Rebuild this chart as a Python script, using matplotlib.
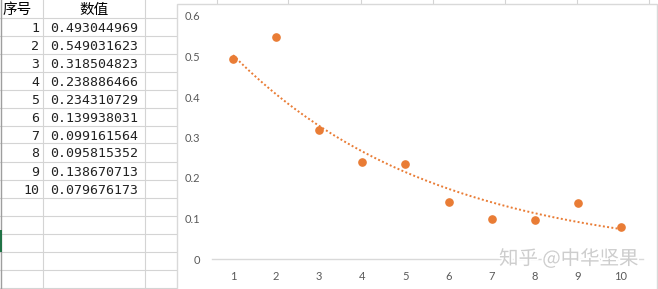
import numpy as np
import matplotlib
matplotlib.use("Agg")
import matplotlib.pyplot as plt
from matplotlib.patches import Rectangle
from matplotlib.lines import Line2D
import matplotlib.patheffects as pe

# ---- data ----
idx = [1, 2, 3, 4, 5, 6, 7, 8, 9, 10]
values = [0.493044969, 0.549031623, 0.318504823, 0.238886466, 0.234310729,
          0.139938031, 0.099161564, 0.095815352, 0.138670713, 0.079676173]
header = ["序号", "数值"]
yticks = [0, 0.1, 0.2, 0.3, 0.4, 0.5, 0.6]
ytick_labels = ["0", "0.1", "0.2", "0.3", "0.4", "0.5", "0.6"]
watermark = "知乎 @中华坚果"

W, H = 658, 289
fig = plt.figure(figsize=(W / 100, H / 100), dpi=100)
fig.patch.set_facecolor("white")

def fx(px):
    return px / W

def fy(py):
    return 1 - py / H

grid_col = "#D4D4D4"
# spreadsheet grid (behind chart)
row_lines = [17.5 + 18 * i for i in range(16)]
for y in row_lines:
    fig.add_artist(Line2D([0, fx(180)], [fy(y), fy(y)], color=grid_col, lw=0.8, zorder=0.5))
for x in [42.5, 144.5]:
    fig.add_artist(Line2D([fx(x), fx(x)], [0, 1], color=grid_col, lw=0.8, zorder=0.5))
for x in [217, 288, 361, 433, 505, 577, 649]:
    fig.add_artist(Line2D([fx(x), fx(x)], [fy(0), fy(4)], color=grid_col, lw=0.8, zorder=0.5))
fig.add_artist(Line2D([fx(0.5), fx(0.5)], [0, 1], color="#9E9E9E", lw=1.0, zorder=0.5))
fig.add_artist(Rectangle((0, fy(252)), fx(2.2), (252 - 230) / H, color="#217346", lw=0, zorder=0.6))

# table text
fig.text(fx(3), fy(10), header[0], fontsize=10.5, family=["Noto Sans CJK SC"],
         ha="left", va="center", color="#000000")
fig.text(fx(94), fy(10), header[1], fontsize=10.5, family=["Noto Sans CJK SC"],
         ha="center", va="center", color="#000000")
for i, (n, v) in enumerate(zip(idx, values)):
    yc = fy(28 + 18 * i)
    fig.text(fx(39), yc, str(n), fontsize=9.5, family=["DejaVu Sans Mono"],
             ha="right", va="center", color="#222222")
    fig.text(fx(138), yc, f"{v:.9f}", fontsize=9.5, family=["DejaVu Sans Mono"],
             ha="right", va="center", color="#222222")

# chart area box
fig.add_artist(Rectangle((fx(176.5), -0.01), fx(657) - fx(176.5), fy(3.5) + 0.01, facecolor="white",
                         edgecolor="#D9D9D9", lw=1.0, zorder=1))

ax = fig.add_axes([fx(211.5), fy(259), fx(642.5) - fx(211.5), fy(16) - fy(259)])
ax.set_zorder(3)
ax.set_facecolor("none")
ax.set_xlim(0.5, 10.5)
ax.set_ylim(0, 0.6)

color = "#E97C35"
ax.plot(idx, values, linestyle="none", marker="o", markersize=5.2, color=color, zorder=3)

# exponential trendline fitted from the data
x_arr = np.array(idx, dtype=float)
b, a = np.polyfit(x_arr, np.log(values), 1)
xt = np.linspace(idx[0], idx[-1], 200)
ax.plot(xt, np.exp(a) * np.exp(b * xt), linestyle=(0, (1, 1.2)), lw=1.4, color=color, zorder=2)

for s in ["top", "right", "left"]:
    ax.spines[s].set_visible(False)
ax.spines["bottom"].set_color("#D9D9D9")
ax.spines["bottom"].set_linewidth(1.0)
ax.set_xticks(idx)
ax.set_xticklabels([str(i) for i in idx])
ax.set_yticks(yticks)
ax.set_yticklabels(ytick_labels)
ax.tick_params(axis="x", length=0, pad=9, labelsize=8, labelcolor="#595959")
ax.tick_params(axis="y", length=0, pad=8, labelsize=8, labelcolor="#595959")
for lab in ax.get_xticklabels() + ax.get_yticklabels():
    lab.set_family(["Lato", "DejaVu Sans"])

t = fig.text(fx(569), fy(259), watermark, fontsize=14, family=["Noto Sans CJK SC", "DejaVu Sans"],
             ha="center", va="center", color="#CDCDCD", zorder=5,
             path_effects=[pe.withStroke(linewidth=2.5, foreground="white")])

fig.savefig("out.png", dpi=100)
